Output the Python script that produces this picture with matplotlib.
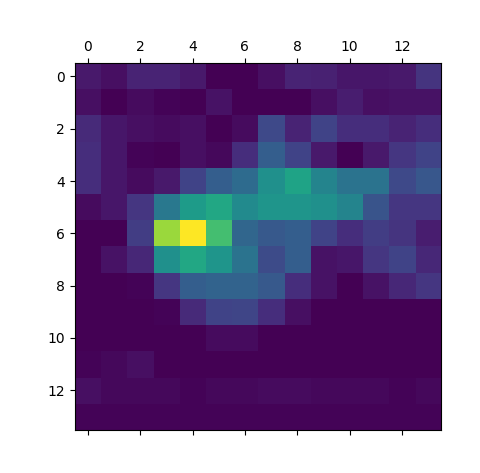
import matplotlib
matplotlib.use("Agg")
import matplotlib.pyplot as plt
import numpy as np

row0 = [.07,.04,.1,.1,.07,0,0,.04,.1,.09,.06,.06,.07,.15]
row1 = [.04,0,.03,.01,0,.05,0,0,0,.04,.08,.04,.05,.05]
row2 = [.12,.06,.04,.03,.04,0,.03,.22,.1,.2,.13,.13,.1,.13]
row3 = [.13,.06,.01,0,.04,.02,.13,.3,.2,.07,0,.07,.16,.2]
row4 = [.13,.06,.03,.07,.2,.3,.35,.5,.58,.45,.38,.38,.22,.27]
row5 = [.03,.06,.16,.4,.55,.6,.48,.52,.52,.5,.45,.26,.16,.16]
row6 = [0,0,.18,.85,1,.7,.33,.28,.3,.2,.13,.18,.15,.08]
row7 = [0,.05,.11,.5,.6,.52,.38,.23,.3,.05,.06,.16,.2,.11]
row8 = [0,0,.01,.16,.3,.32,.32,.28,.13,.05,0,.05,.11,.16]
row9 = [0,0,0,.01,.12,.2,.21,.13,.04,0,0,0,0,0]
row10 = [0,0,0,0,0,.03,.03,0,0,0,0,0,0,0]
row11 = [.01,.02,.04,0,0,0,0,0,0,0,0,0,0,0]
row12 = [.04,.02,.02,.02,.01,.02,.02,.03,.03,.02,.02,.02,.01,.02]
row13 = [.01]*14

data = np.array([row0,row1,row2,row3,row4,row5,row6,row7,row8,row9,row10,row11,row12,row13])

fig = plt.figure(figsize=(4.8,4.73), dpi=100)
ax = fig.add_axes([0.156,0.091,0.763,0.776])
ax.matshow(data, cmap='viridis', vmin=0, vmax=1)
ax.set_xticks([0,2,4,6,8,10,12])
ax.set_yticks([0,2,4,6,8,10,12])
fig.savefig("out.png", dpi=100)
